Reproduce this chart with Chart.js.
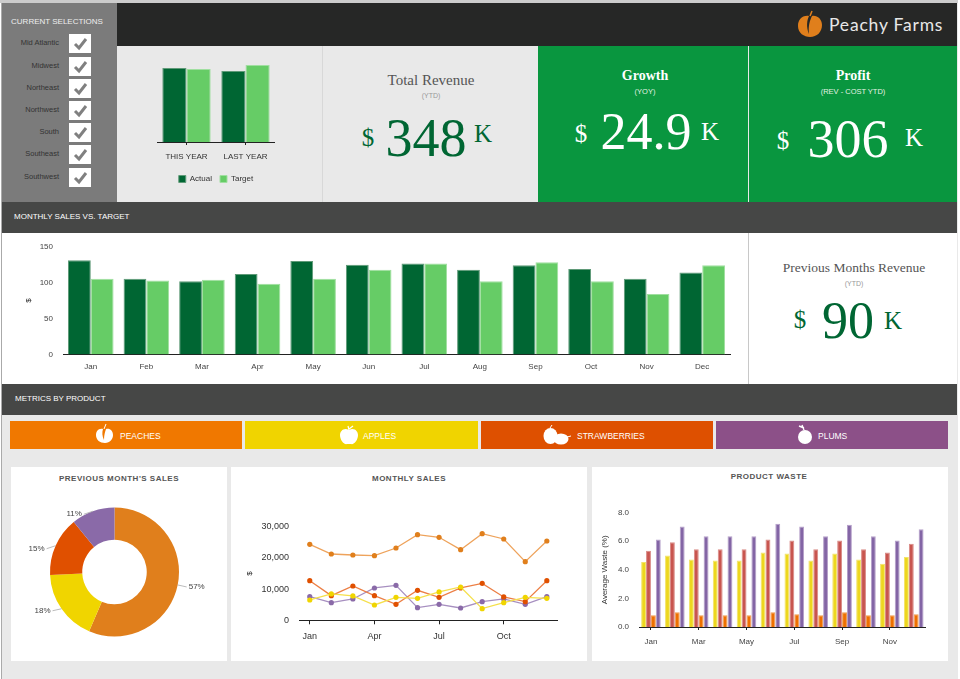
<!DOCTYPE html>
<html>
<head>
<meta charset="utf-8">
<title>Peachy Farms</title>
<script src="https://cdn.jsdelivr.net/npm/chart.js@4"></script>
<style>
html, body { margin: 0; padding: 0; background: #fff; }
body { width: 960px; height: 679px; position: relative; overflow: hidden; font-family: "Liberation Sans", Arial, sans-serif; }
.box, .txt, canvas, svg { position: absolute; }
.txt { white-space: nowrap; transform: translate(-50%, -50%); line-height: 1; }
.left { transform: translate(0, -50%); }
.right { transform: translate(-100%, -50%); }
.serif { font-family: "Liberation Serif", Georgia, serif; }
.band { color: #fff; font-size: 8px; }
.tab { color: #fff; font-size: 8.5px; }
.cardtitle { color: #555; font-size: 8px; font-weight: bold; letter-spacing: .5px; }
.region { color: #333; font-size: 7.5px; }
</style>
</head>
<body>
<div class="box" style="left:1px;top:0;width:956px;height:679px;background:#e9e9e9;border-left:1px solid #aaa"></div>
<div class="box" style="left:0;top:0;width:958px;height:3px;background:#ccc"></div>

<div class="box" style="left:2px;top:3px;width:115px;height:199px;background:#7b7b7b"></div>
<div class="box" style="left:117px;top:3px;width:840px;height:43px;background:#262726"></div>
<div class="box" style="left:117px;top:46px;width:421px;height:156px;background:#e9e9e9"></div>
<div class="box" style="left:322px;top:46px;width:1px;height:156px;background:#d8d8d8"></div>
<div class="box" style="left:538px;top:46px;width:210px;height:156px;background:#09963f"></div>
<div class="box" style="left:749px;top:46px;width:208px;height:156px;background:#09963f"></div>

<div class="box" style="left:2px;top:202px;width:955px;height:31px;background:#464746"></div>
<div class="box" style="left:2px;top:233px;width:955px;height:151px;background:#fff"></div>
<div class="box" style="left:748px;top:233px;width:1px;height:151px;background:#c8c8c8"></div>
<div class="box" style="left:2px;top:384px;width:955px;height:31px;background:#464746"></div>

<div class="box" style="left:10px;top:421px;width:232px;height:28px;background:#f07800"></div>
<div class="box" style="left:245px;top:421px;width:233px;height:28px;background:#f0d400"></div>
<div class="box" style="left:481px;top:421px;width:232px;height:28px;background:#de5000"></div>
<div class="box" style="left:716px;top:421px;width:232px;height:28px;background:#8c5088"></div>

<div class="box" style="left:11px;top:467px;width:216px;height:194px;background:#fff"></div>
<div class="box" style="left:231px;top:467px;width:356px;height:194px;background:#fff"></div>
<div class="box" style="left:592px;top:467px;width:356px;height:194px;background:#fff"></div>

<div id="regions"></div>

<div class="txt" style="left:57px;top:22px;color:#eee;font-size:8px">CURRENT SELECTIONS</div>

<svg style="left:798px;top:10px" width="26" height="28" viewBox="0 0 26 28">
  <path d="M11 6 C4 5 0 10 0 16 C0 23 6 27 12 27 C19 27 24 22 24 15 C24 9 19 5 14 6 C12 10 10 16 11 24 C8 17 9 10 11 6 Z" fill="#e07f1c"/>
  <path d="M12 6 L14 1" stroke="#e07f1c" stroke-width="1.5"/>
</svg>
<div class="txt left" style="left:829px;top:25px;color:#e8e8e8;font-size:17.5px;letter-spacing:.8px;font-family:Lato,sans-serif">Peachy Farms</div>

<div class="txt serif" style="left:431px;top:80px;color:#555;font-size:15px">Total Revenue</div>
<div class="txt" style="left:431px;top:95px;color:#999;font-size:7px">(YTD)</div>
<div class="txt serif" style="left:368px;top:137px;color:#006633;font-size:25px">$</div>
<div class="txt serif" style="left:426px;top:138px;color:#006633;font-size:54px">348</div>
<div class="txt serif" style="left:483px;top:133px;color:#006633;font-size:25px">K</div>

<div class="txt serif" style="left:645px;top:76px;color:#fff;font-size:14px;font-weight:bold">Growth</div>
<div class="txt" style="left:645px;top:92px;color:#e4f2e4;font-size:7.5px">(YOY)</div>
<div class="txt serif" style="left:581px;top:133px;color:#fff;font-size:25px">$</div>
<div class="txt serif" style="left:646px;top:132px;color:#fff;font-size:52px">24.9</div>
<div class="txt serif" style="left:710px;top:131px;color:#fff;font-size:25px">K</div>

<div class="txt serif" style="left:853px;top:76px;color:#fff;font-size:14px;font-weight:bold">Profit</div>
<div class="txt" style="left:853px;top:92px;color:#e4f2e4;font-size:7.5px">(REV - COST YTD)</div>
<div class="txt serif" style="left:783px;top:140px;color:#fff;font-size:25px">$</div>
<div class="txt serif" style="left:848px;top:139px;color:#fff;font-size:54px">306</div>
<div class="txt serif" style="left:914px;top:137px;color:#fff;font-size:25px">K</div>

<div class="txt band left" style="left:14px;top:217px">MONTHLY SALES VS. TARGET</div>
<div class="txt band left" style="left:15px;top:399px">METRICS BY PRODUCT</div>

<div class="txt serif" style="left:854px;top:268px;color:#555;font-size:13.5px">Previous Months Revenue</div>
<div class="txt" style="left:854px;top:283px;color:#999;font-size:7px">(YTD)</div>
<div class="txt serif" style="left:800px;top:319px;color:#006633;font-size:25px">$</div>
<div class="txt serif" style="left:848px;top:321px;color:#006633;font-size:52px">90</div>
<div class="txt serif" style="left:893px;top:320px;color:#006633;font-size:25px">K</div>

<svg style="left:96px;top:424px" width="18" height="20" viewBox="0 0 18 20">
  <path d="M7 5 C2 4 0 8 0 11 C0 16 4 19 9 19 C14 19 17 15 17 11 C17 7 14 4 10 5 C9 8 8 11 8 16 C6 12 6 8 7 5 Z" fill="#fff"/>
  <path d="M8 5 L10 0" stroke="#fff" stroke-width="1"/>
</svg>
<div class="txt tab left" style="left:120px;top:436px">PEACHES</div>
<svg style="left:340px;top:424px" width="18" height="21" viewBox="0 0 18 21">
  <path d="M9 6 C4 3 0 7 0 11 C0 16 4 21 7 20 C8 20 10 20 11 20 C14 21 18 16 18 11 C18 7 14 3 9 6 Z" fill="#fff"/>
  <path d="M9 6 L8 2 M9 5 L13 2" stroke="#fff" stroke-width="1.2"/>
</svg>
<div class="txt tab left" style="left:363px;top:436px">APPLES</div>
<svg style="left:543px;top:425px" width="28" height="20" viewBox="0 0 28 20">
  <ellipse cx="7.5" cy="11" rx="7" ry="8" fill="#fff"/>
  <ellipse cx="18" cy="14" rx="7.5" ry="5.5" fill="#fff"/>
  <path d="M7 3 L9 0 M24 12 L28 11" stroke="#fff" stroke-width="1"/>
</svg>
<div class="txt tab left" style="left:577px;top:436px">STRAWBERRIES</div>
<svg style="left:797px;top:423px" width="16" height="21" viewBox="0 0 16 21">
  <circle cx="8" cy="14" r="7" fill="#fff"/>
  <path d="M7 7 L5 2 M7 5 L2 3" stroke="#fff" stroke-width="1.4"/>
</svg>
<div class="txt tab left" style="left:818px;top:436px">PLUMS</div>

<div class="txt cardtitle" style="left:119px;top:479px">PREVIOUS MONTH'S SALES</div>
<div class="txt cardtitle" style="left:409px;top:479px">MONTHLY SALES</div>
<div class="txt cardtitle" style="left:769px;top:477px">PRODUCT WASTE</div>

<canvas id="yearChart" width="118" height="135" style="left:157px;top:58px;width:118px;height:135px"></canvas>
<canvas id="monthChart" width="730" height="142" style="left:10px;top:238px;width:730px;height:142px"></canvas>
<canvas id="donutChart" width="207" height="150" style="left:11px;top:497px;width:207px;height:150px"></canvas>
<canvas id="lineChart" width="340" height="140" style="left:240px;top:510px;width:340px;height:140px"></canvas>
<canvas id="wasteChart" width="343" height="155" style="left:597px;top:500px;width:343px;height:155px"></canvas>

<script>
const regions = ['Mid Atlantic', 'Midwest', 'Northeast', 'Northwest', 'South', 'Southeast', 'Southwest'];
const regionRows = [43, 66, 88, 110, 132, 154, 177];

const yearLabels = ['THIS YEAR', 'LAST YEAR'];
const yearActual = [348, 334];
const yearTarget = [343, 362];

const months = ['Jan', 'Feb', 'Mar', 'Apr', 'May', 'Jun', 'Jul', 'Aug', 'Sep', 'Oct', 'Nov', 'Dec'];
const salesActual = [131, 105.5, 102, 112, 130, 125, 126.5, 118, 124, 119, 105.5, 114];
const salesTarget = [105.5, 103, 104, 98.5, 105.5, 118, 126.5, 102, 128.5, 102, 84, 124];

const donutLabels = ['Peaches', 'Apples', 'Strawberries', 'Plums'];
const donutValues = [57, 18, 15, 11];

const peachSales = [24350, 21250, 20930, 20720, 23170, 27450, 26600, 22640, 27770, 26060, 18800, 25420];
const appleSales = [6510, 8440, 7800, 4910, 7370, 7050, 9080, 10680, 3740, 5660, 7370, 7050];
const strawberrySales = [12700, 7900, 11000, 7900, 5130, 9610, 7370, 10360, 11850, 7480, 5980, 12700];
const plumSales = [7580, 5660, 6840, 10360, 11210, 4060, 5130, 3950, 5980, 6840, 5130, 7580];

const appleWaste = [4.55, 5.0, 4.73, 4.66, 4.66, 5.22, 5.15, 4.66, 5.15, 4.73, 4.43, 4.9];
const strawberryWaste = [5.34, 5.94, 5.45, 5.45, 5.45, 6.13, 6.06, 5.45, 6.06, 5.45, 5.22, 5.83];
const peachWaste = [0.82, 1.03, 0.82, 0.82, 0.82, 1.03, 0.89, 0.82, 1.03, 0.82, 0.82, 0.89];
const plumWaste = [6.13, 7.04, 6.36, 6.36, 6.36, 7.23, 7.04, 6.36, 7.16, 6.36, 6.06, 6.85];

const sansFont = '"Liberation Sans", Arial, sans-serif';
Chart.defaults.font.family = sansFont;
Chart.defaults.font.size = 8;
Chart.defaults.color = '#444';
Chart.defaults.animation = false;
Chart.defaults.responsive = false;
Chart.defaults.plugins.legend.display = false;
Chart.defaults.plugins.tooltip.enabled = false;

// the sidebar with the check boxes
const regionBox = document.getElementById('regions');
regions.forEach(function (name, i) {
    const y = regionRows[i];
    regionBox.insertAdjacentHTML('beforeend',
        '<div class="txt region right" style="left:59px;top:' + y + 'px">' + name + '</div>' +
        '<div class="box" style="left:69px;top:' + (y - 9) + 'px;width:22px;height:19px;background:#fff"></div>' +
        '<svg style="left:69px;top:' + (y - 9) + 'px" width="22" height="19" viewBox="0 0 22 19">' +
        '<path d="M6 10 L10 14 L17 5" fill="none" stroke="#808080" stroke-width="3"/></svg>');
});

// fixes the width of a y axis or the height of an x axis
function fixWidth(w) {
    return function (scale) { scale.width = w; scale.paddingTop = 0; scale.paddingBottom = 0; };
}
function fixHeight(h) {
    return function (scale) { scale.height = h; };
}

function barSet(label, data, color, edge) {
    return { label: label, data: data, backgroundColor: color, borderColor: edge, borderWidth: 1,
        categoryPercentage: 0.82, barPercentage: 1 };
}

// small chart with this year and last year
new Chart(document.getElementById('yearChart'), {
    type: 'bar',
    data: {
        labels: yearLabels,
        datasets: [
            barSet('Actual', yearActual, '#006633', '#5f9a78'),
            barSet('Target', yearTarget, '#66cc66', '#a0dfa0'),
        ],
    },
    options: {
        plugins: {
            legend: {
                display: true,
                position: 'bottom',
                labels: { boxWidth: 7, boxHeight: 7, padding: 8, font: { size: 8 }, color: '#333' },
            },
        },
        scales: {
            x: {
                afterFit: fixHeight(25),
                grid: { offset: false, drawOnChartArea: false, tickLength: 3, tickColor: '#222' },
                border: { color: '#222' },
                ticks: { padding: 7, color: '#333', font: { size: 8 } },
            },
            y: { display: false, min: 0, max: 395 },
        },
    },
});

// monthly sales against target
new Chart(document.getElementById('monthChart'), {
    type: 'bar',
    data: {
        labels: months,
        datasets: [
            barSet('Actual', salesActual, '#006633', '#5f9a78'),
            barSet('Target', salesTarget, '#66cc66', '#a0dfa0'),
        ],
    },
    options: {
        layout: { padding: { top: 8.7, right: 10 } },
        scales: {
            x: {
                afterFit: fixHeight(25.6),
                grid: { display: true, drawOnChartArea: false, drawTicks: false },
                border: { color: '#222' },
                ticks: { padding: 8 },
            },
            y: {
                min: 0, max: 150,
                afterFit: fixWidth(53),
                grid: { display: false },
                border: { display: false },
                ticks: { stepSize: 50, padding: 2 },
                title: { display: true, text: '$', color: '#222', font: { size: 8 }, padding: { top: 14, bottom: 0 } },
            },
        },
    },
});

// labels with a leader line outside the ring
const ringLabels = {
    id: 'ringLabels',
    afterDraw(chart) {
        const ctx = chart.ctx;
        const arcs = chart.getDatasetMeta(0).data;
        ctx.save();
        ctx.font = '8px ' + sansFont;
        ctx.textBaseline = 'middle';
        arcs.forEach(function (arc, i) {
            const mid = (arc.startAngle + arc.endAngle) / 2;
            const ex = arc.x + Math.cos(mid) * arc.outerRadius;
            const ey = arc.y + Math.sin(mid) * arc.outerRadius;
            const right = Math.cos(mid) > 0;
            const kx = ex + (right ? 9 : -9);
            const ky = ey + (Math.sin(mid) > 0 ? 2 : 3);
            ctx.strokeStyle = '#aaa';
            ctx.lineWidth = 0.8;
            ctx.beginPath();
            ctx.moveTo(ex, ey);
            ctx.lineTo(kx, ky);
            ctx.stroke();
            ctx.fillStyle = '#444';
            ctx.textAlign = right ? 'left' : 'right';
            ctx.fillText(donutValues[i] + '%', kx + (right ? 2 : -2), ky);
        });
        ctx.restore();
    },
};

new Chart(document.getElementById('donutChart'), {
    type: 'doughnut',
    data: {
        labels: donutLabels,
        datasets: [{
            data: donutValues,
            backgroundColor: ['#e07f1c', '#f0d500', '#e05000', '#8a6aa8'],
            borderWidth: 0,
        }],
    },
    options: { cutout: '50%', layout: { padding: 10.5 } },
    plugins: [ringLabels],
});

function lineSet(label, data, line, dot) {
    return { label: label, data: data, borderColor: line, backgroundColor: dot, pointBackgroundColor: dot,
        pointBorderWidth: 0, pointRadius: 2.6, borderWidth: 1.3, tension: 0 };
}

// only every n-th month gets a label and a tick mark
function everyNth(n) {
    return function (value, index) { return index % n === 0 ? months[index] : ''; };
}
function tickEvery(n, color) {
    return function (ctx) { return ctx.index % n === 0 ? color : 'rgba(0,0,0,0)'; };
}

new Chart(document.getElementById('lineChart'), {
    type: 'line',
    data: {
        labels: months,
        datasets: [
            lineSet('Peaches', peachSales, '#eea35c', '#e07f1c'),
            lineSet('Apples', appleSales, '#f5e04c', '#f0d500'),
            lineSet('Strawberries', strawberrySales, '#ec7f45', '#e05000'),
            lineSet('Plums', plumSales, '#a78fc0', '#8a6aa8'),
        ],
    },
    options: {
        layout: { padding: { top: 16.7, right: 22.4 } },
        scales: {
            x: {
                offset: true,
                afterFit: fixHeight(29.7),
                grid: { offset: false, drawOnChartArea: false, tickLength: 4, tickColor: tickEvery(3, '#222') },
                border: { color: '#222' },
                ticks: { autoSkip: false, maxRotation: 0, padding: 7, color: '#333', font: { size: 9 }, callback: everyNth(3) },
            },
            y: {
                min: 0, max: 30000,
                afterFit: fixWidth(59),
                grid: { display: false },
                border: { display: false },
                ticks: { stepSize: 10000, padding: 2, color: '#333', font: { size: 9 },
                    callback: function (v) { return v.toLocaleString('en-US'); } },
                title: { display: true, text: '$', color: '#222', font: { size: 8 }, padding: { top: 5, bottom: 0 } },
            },
        },
    },
});

// waste per month for the four products
new Chart(document.getElementById('wasteChart'), {
    type: 'bar',
    data: {
        labels: months,
        datasets: [
            barSet('Apples', appleWaste, '#edd71e', '#f2e36a'),
            barSet('Strawberries', strawberryWaste, '#c8554f', '#d98a86'),
            barSet('Peaches', peachWaste, '#ee7000', '#f19a4d'),
            barSet('Plums', plumWaste, '#8365a5', '#b5a0c9'),
        ],
    },
    options: {
        layout: { padding: { top: 12.7, right: 14.3 } },
        scales: {
            x: {
                afterFit: fixHeight(28),
                grid: { offset: false, drawOnChartArea: false, tickLength: 3, tickColor: tickEvery(2, '#222') },
                border: { color: '#222' },
                ticks: { autoSkip: false, maxRotation: 0, padding: 7, callback: everyNth(2) },
            },
            y: {
                min: 0, max: 8,
                afterFit: fixWidth(42),
                grid: { display: false },
                border: { display: false },
                ticks: { stepSize: 2, padding: 2, callback: function (v) { return v.toFixed(1); } },
                title: { display: true, text: 'Average Waste (%)', color: '#333', font: { size: 8 }, padding: { top: 3, bottom: 0 } },
            },
        },
    },
});
</script>
</body>
</html>
